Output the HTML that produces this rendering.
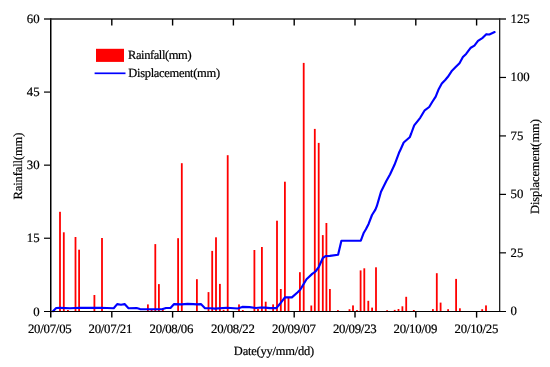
<!DOCTYPE html>
<html><head><meta charset="utf-8"><title>Rainfall and Displacement</title>
<style>html,body{margin:0;padding:0;background:#fff;width:550px;height:367px;overflow:hidden}svg{display:block}</style>
</head><body>
<svg width="550" height="367" viewBox="0 0 550 367"><rect width="550" height="367" fill="#fff"/><g fill="#ff0000"><rect x="59.10" y="211.80" width="1.8" height="99.50"/><rect x="62.90" y="232.30" width="1.8" height="79.00"/><rect x="67.00" y="310.00" width="1.8" height="1.30"/><rect x="74.60" y="237.00" width="1.8" height="74.30"/><rect x="78.20" y="249.70" width="1.8" height="61.60"/><rect x="93.50" y="295.00" width="1.8" height="16.30"/><rect x="101.10" y="238.00" width="1.8" height="73.30"/><rect x="147.00" y="304.40" width="1.8" height="6.90"/><rect x="150.70" y="309.50" width="1.8" height="1.80"/><rect x="154.40" y="244.10" width="1.8" height="67.20"/><rect x="158.00" y="284.10" width="1.8" height="27.20"/><rect x="161.90" y="309.50" width="1.8" height="1.80"/><rect x="177.20" y="238.20" width="1.8" height="73.10"/><rect x="180.90" y="163.20" width="1.8" height="148.10"/><rect x="196.00" y="279.20" width="1.8" height="32.10"/><rect x="207.60" y="292.10" width="1.8" height="19.20"/><rect x="211.30" y="250.90" width="1.8" height="60.40"/><rect x="215.10" y="237.30" width="1.8" height="74.00"/><rect x="219.00" y="283.90" width="1.8" height="27.40"/><rect x="222.70" y="309.80" width="1.8" height="1.50"/><rect x="226.80" y="155.20" width="1.8" height="156.10"/><rect x="238.10" y="304.40" width="1.8" height="6.90"/><rect x="241.90" y="310.00" width="1.8" height="1.30"/><rect x="253.50" y="250.00" width="1.8" height="61.30"/><rect x="257.10" y="309.00" width="1.8" height="2.30"/><rect x="261.00" y="247.00" width="1.8" height="64.30"/><rect x="264.80" y="301.70" width="1.8" height="9.60"/><rect x="272.20" y="304.40" width="1.8" height="6.90"/><rect x="276.10" y="220.70" width="1.8" height="90.60"/><rect x="279.90" y="289.00" width="1.8" height="22.30"/><rect x="284.00" y="181.70" width="1.8" height="129.60"/><rect x="287.60" y="298.00" width="1.8" height="13.30"/><rect x="299.00" y="272.20" width="1.8" height="39.10"/><rect x="302.80" y="62.90" width="1.8" height="248.40"/><rect x="310.40" y="305.50" width="1.8" height="5.80"/><rect x="313.90" y="128.90" width="1.8" height="182.40"/><rect x="317.80" y="142.90" width="1.8" height="168.40"/><rect x="321.90" y="235.10" width="1.8" height="76.20"/><rect x="325.50" y="223.00" width="1.8" height="88.30"/><rect x="329.00" y="289.00" width="1.8" height="22.30"/><rect x="337.00" y="310.10" width="1.8" height="1.20"/><rect x="348.60" y="309.20" width="1.8" height="2.10"/><rect x="352.10" y="305.40" width="1.8" height="5.90"/><rect x="356.10" y="310.10" width="1.8" height="1.20"/><rect x="359.70" y="270.40" width="1.8" height="40.90"/><rect x="363.40" y="268.30" width="1.8" height="43.00"/><rect x="367.40" y="300.80" width="1.8" height="10.50"/><rect x="371.20" y="307.60" width="1.8" height="3.70"/><rect x="375.10" y="267.30" width="1.8" height="44.00"/><rect x="386.20" y="310.20" width="1.8" height="1.10"/><rect x="393.80" y="309.90" width="1.8" height="1.40"/><rect x="397.60" y="309.00" width="1.8" height="2.30"/><rect x="401.50" y="306.30" width="1.8" height="5.00"/><rect x="405.30" y="296.80" width="1.8" height="14.50"/><rect x="412.90" y="310.00" width="1.8" height="1.30"/><rect x="432.00" y="309.10" width="1.8" height="2.20"/><rect x="435.90" y="273.20" width="1.8" height="38.10"/><rect x="439.70" y="302.60" width="1.8" height="8.70"/><rect x="447.20" y="309.20" width="1.8" height="2.10"/><rect x="455.20" y="278.90" width="1.8" height="32.40"/><rect x="459.00" y="308.30" width="1.8" height="3.00"/><rect x="481.30" y="309.20" width="1.8" height="2.10"/><rect x="485.10" y="305.40" width="1.8" height="5.90"/></g><polyline points="53.0,311.3 56.2,308.0 60.0,307.9 70.0,308.2 80.0,307.8 90.0,307.9 100.0,307.7 113.7,308.2 117.2,304.1 121.0,304.7 124.6,304.1 128.5,308.2 136.6,308.0 140.0,309.1 162.0,309.2 166.0,308.0 170.5,308.0 174.1,304.1 181.4,304.4 187.7,303.9 193.2,304.1 196.8,304.4 200.9,304.1 205.0,308.2 210.5,308.2 215.0,308.6 226.8,307.8 237.7,308.5 242.3,306.9 249.5,307.1 255.9,308.0 260.5,307.5 265.0,307.6 270.0,308.1 276.4,308.1 280.0,303.8 284.9,297.4 291.9,297.4 297.7,292.3 300.2,289.7 306.5,279.2 312.2,273.9 315.5,271.5 318.9,266.8 322.7,258.2 325.5,256.1 329.9,255.9 338.1,254.8 341.4,240.7 360.8,240.7 363.8,232.7 365.9,229.3 368.6,223.9 372.0,215.0 375.4,209.6 376.8,206.2 378.8,199.4 381.0,191.7 386.2,181.3 390.0,174.5 394.5,164.8 399.0,152.8 400.7,149.2 403.7,142.5 409.7,137.3 411.2,133.5 414.2,125.3 420.2,117.8 424.7,110.3 429.2,107.0 432.2,102.0 435.7,96.6 438.4,89.8 441.8,83.6 445.2,80.0 447.9,76.8 452.0,70.7 455.4,67.3 459.5,63.2 462.9,57.1 466.1,53.9 470.8,47.7 474.4,45.6 478.0,40.9 482.7,37.8 486.3,34.2 489.4,34.5 494.6,32.1" fill="none" stroke="#0000ff" stroke-width="2.15" stroke-linejoin="round" stroke-linecap="round"/><g stroke="#000" fill="none"><line x1="50.75" y1="18.2" x2="50.75" y2="317.6" stroke-width="1.5"/><line x1="499.7" y1="18.2" x2="499.7" y2="311.8" stroke-width="1.15"/><line x1="44" y1="19.0" x2="506" y2="19.0" stroke-width="1.7" stroke="#222"/><line x1="44" y1="311.5" x2="506" y2="311.5" stroke-width="1.0"/><line x1="44" y1="238.23" x2="51.0" y2="238.23" stroke-width="1.2"/><line x1="44" y1="165.15" x2="51.0" y2="165.15" stroke-width="1.2"/><line x1="44" y1="92.08" x2="51.0" y2="92.08" stroke-width="1.2"/><line x1="499.6" y1="252.84" x2="506" y2="252.84" stroke-width="1.2"/><line x1="499.6" y1="194.38" x2="506" y2="194.38" stroke-width="1.2"/><line x1="499.6" y1="135.92" x2="506" y2="135.92" stroke-width="1.2"/><line x1="499.6" y1="77.46" x2="506" y2="77.46" stroke-width="1.2"/><line x1="111.80" y1="311.3" x2="111.80" y2="317.6" stroke-width="1.4"/><line x1="111.80" y1="19.0" x2="111.80" y2="25.5" stroke-width="1.4"/><line x1="172.60" y1="311.3" x2="172.60" y2="317.6" stroke-width="1.4"/><line x1="172.60" y1="19.0" x2="172.60" y2="25.5" stroke-width="1.4"/><line x1="233.40" y1="311.3" x2="233.40" y2="317.6" stroke-width="1.4"/><line x1="233.40" y1="19.0" x2="233.40" y2="25.5" stroke-width="1.4"/><line x1="294.20" y1="311.3" x2="294.20" y2="317.6" stroke-width="1.4"/><line x1="294.20" y1="19.0" x2="294.20" y2="25.5" stroke-width="1.4"/><line x1="355.00" y1="311.3" x2="355.00" y2="317.6" stroke-width="1.4"/><line x1="355.00" y1="19.0" x2="355.00" y2="25.5" stroke-width="1.4"/><line x1="415.80" y1="311.3" x2="415.80" y2="317.6" stroke-width="1.4"/><line x1="415.80" y1="19.0" x2="415.80" y2="25.5" stroke-width="1.4"/><line x1="476.60" y1="311.3" x2="476.60" y2="317.6" stroke-width="1.4"/><line x1="476.60" y1="19.0" x2="476.60" y2="25.5" stroke-width="1.4"/></g><g style="font-family:'Liberation Serif','Times New Roman',serif;text-rendering:geometricPrecision;font-size:12.8px" fill="#000" stroke="#000" stroke-width="0.2"><text x="39.6" y="315.50" text-anchor="end">0</text><text x="39.6" y="242.43" text-anchor="end">15</text><text x="39.6" y="169.35" text-anchor="end">30</text><text x="39.6" y="96.28" text-anchor="end">45</text><text x="39.6" y="23.20" text-anchor="end">60</text><text x="510.5" y="315.30">0</text><text x="510.5" y="256.84">25</text><text x="510.5" y="198.38">50</text><text x="510.5" y="139.92">75</text><text x="510.5" y="81.46">100</text><text x="510.5" y="23.00">125</text><text x="49.80" y="332.5" text-anchor="middle" textLength="43.77" lengthAdjust="spacing">20/07/05</text><text x="110.40" y="332.5" text-anchor="middle" textLength="43.77" lengthAdjust="spacing">20/07/21</text><text x="171.50" y="332.5" text-anchor="middle" textLength="43.77" lengthAdjust="spacing">20/08/06</text><text x="233.00" y="332.5" text-anchor="middle" textLength="43.77" lengthAdjust="spacing">20/08/22</text><text x="293.90" y="332.5" text-anchor="middle" textLength="43.77" lengthAdjust="spacing">20/09/07</text><text x="354.80" y="332.5" text-anchor="middle" textLength="43.77" lengthAdjust="spacing">20/09/23</text><text x="415.40" y="332.5" text-anchor="middle" textLength="43.77" lengthAdjust="spacing">20/10/09</text><text x="476.50" y="332.5" text-anchor="middle" textLength="43.77" lengthAdjust="spacing">20/10/25</text></g><g style="font-family:'Liberation Serif','Times New Roman',serif;text-rendering:geometricPrecision;font-size:12.5px" fill="#000" stroke="#000" stroke-width="0.2"><text x="233.85" y="355" textLength="80.33" lengthAdjust="spacing">Date(yy/mm/dd)</text><text transform="translate(21.6,199.4) rotate(-90)" textLength="66.8" lengthAdjust="spacing">Rainfall(mm)</text><text transform="translate(538.5,213.95) rotate(-90)" textLength="94.75" lengthAdjust="spacing">Displacement(mm)</text><text x="128.0" y="58.95" textLength="63.55" lengthAdjust="spacing">Rainfall(mm)</text><text x="128.35" y="77.2" textLength="91.75" lengthAdjust="spacing">Displacement(mm)</text></g><rect x="96" y="48.8" width="28" height="13.1" fill="#ff0000"/><line x1="94.6" y1="73.3" x2="125.5" y2="73.3" stroke="#0000ff" stroke-width="1.7"/></svg>
</body></html>
